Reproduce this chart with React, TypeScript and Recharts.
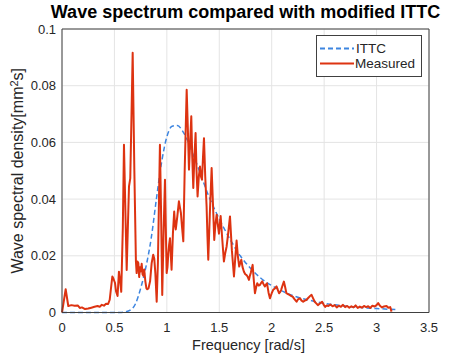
import { LineChart, Line, XAxis, YAxis, CartesianGrid, Legend } from 'recharts';

const FONT = '"Liberation Sans", Arial, Helvetica, sans-serif';
const AXIS = '#404040';

const xTicks = [0, 0.5, 1, 1.5, 2, 2.5, 3, 3.5];
const yTicks = [0, 0.02, 0.04, 0.06, 0.08, 0.1];

// modified ITTC spectrum
const ittcFreq = [0, 0.3, 0.55, 0.6, 0.65, 0.7, 0.75, 0.8, 0.85, 0.9, 0.95, 1.0, 1.05, 1.1, 1.15, 1.2, 1.25, 1.3, 1.4, 1.5, 1.6, 1.7, 1.8, 1.9, 2.0, 2.2, 2.4, 2.6, 2.8, 3.0, 3.2];
const ittcDensity = [0, 0, 0, 0.0002, 0.0008, 0.003, 0.0085, 0.016, 0.026, 0.04, 0.053, 0.062, 0.0657, 0.066, 0.064, 0.0605, 0.0557, 0.051, 0.041, 0.033, 0.026, 0.02, 0.0155, 0.012, 0.0095, 0.006, 0.004, 0.0027, 0.0019, 0.0014, 0.001];

// measured spectrum
const measuredFreq = [
  0, 0.035, 0.06, 0.09, 0.12, 0.15, 0.17, 0.19, 0.22, 0.25, 0.28, 0.31, 0.34, 0.36, 0.38, 0.4, 0.42, 0.44, 0.455, 0.47,
  0.48, 0.49, 0.505, 0.515, 0.53, 0.543, 0.555, 0.565, 0.58, 0.591, 0.605, 0.617, 0.628, 0.639, 0.651, 0.663, 0.674, 0.69, 0.705, 0.712,
  0.72, 0.728, 0.736, 0.744, 0.752, 0.76, 0.768, 0.776, 0.784, 0.795, 0.805, 0.813, 0.825, 0.84, 0.855, 0.87, 0.88, 0.89, 0.903, 0.915,
  0.925, 0.934, 0.945, 0.956, 0.97, 0.982, 0.99, 0.998, 1.006, 1.014, 1.022, 1.03, 1.038, 1.045, 1.058, 1.07, 1.078, 1.085, 1.1, 1.115,
  1.125, 1.134, 1.145, 1.157, 1.17, 1.189, 1.2, 1.211, 1.222, 1.233, 1.242, 1.252, 1.263, 1.274, 1.283, 1.293, 1.305, 1.316, 1.325, 1.335,
  1.345, 1.354, 1.366, 1.379, 1.387, 1.395, 1.41, 1.427, 1.44, 1.452, 1.463, 1.475, 1.486, 1.497, 1.505, 1.513, 1.528, 1.544, 1.557, 1.57,
  1.585, 1.602, 1.62, 1.64, 1.652, 1.665, 1.677, 1.69, 1.7, 1.71, 1.722, 1.735, 1.748, 1.76, 1.772, 1.783, 1.792, 1.8, 1.818, 1.83,
  1.84, 1.852, 1.862, 1.875, 1.887, 1.9, 1.91, 1.922, 1.935, 1.945, 1.955, 1.97, 1.983, 2.0, 2.014, 2.03, 2.046, 2.058, 2.07, 2.08,
  2.09, 2.103, 2.116, 2.128, 2.14, 2.155, 2.17, 2.185, 2.2, 2.215, 2.237, 2.25, 2.27, 2.285, 2.3, 2.315, 2.33, 2.35, 2.365, 2.38,
  2.395, 2.41, 2.425, 2.44, 2.46, 2.48, 2.495, 2.51, 2.525, 2.54, 2.56, 2.58, 2.6, 2.62, 2.64, 2.66, 2.68, 2.7, 2.72, 2.74,
  2.76, 2.78, 2.8, 2.82, 2.84, 2.86, 2.88, 2.9, 2.92, 2.94, 2.96, 2.98, 3.0, 3.015, 3.03, 3.05, 3.07, 3.095, 3.11, 3.13, 3.143,
];
const measuredDensity = [
  0, 0.0082, 0.0023, 0.0026, 0.0024, 0.0025, 0.0016, 0.0018, 0.0012, 0.0014, 0.0017, 0.002, 0.0023, 0.002, 0.0027, 0.0024, 0.0031, 0.003, 0.0045, 0.0095,
  0.0127, 0.012, 0.0105, 0.0075, 0.0058, 0.0144, 0.011, 0.0073, 0.03, 0.0592, 0.035, 0.015, 0.03, 0.0445, 0.0473, 0.07, 0.0916, 0.05, 0.018, 0.0139,
  0.018, 0.0175, 0.0125, 0.016, 0.0145, 0.0172, 0.0135, 0.013, 0.0152, 0.011, 0.0085, 0.0082, 0.0085, 0.011, 0.0174, 0.0204, 0.019, 0.014, 0.0038, 0.018,
  0.04, 0.0592, 0.035, 0.0062, 0.03, 0.0468, 0.03, 0.0139, 0.016, 0.0209, 0.024, 0.0262, 0.02, 0.0151, 0.028, 0.0356, 0.031, 0.0293, 0.034, 0.0392,
  0.037, 0.0351, 0.03, 0.0251, 0.05, 0.0786, 0.065, 0.0504, 0.06, 0.0692, 0.055, 0.0439, 0.055, 0.0633, 0.05, 0.0409, 0.048, 0.0515, 0.048, 0.0468,
  0.055, 0.0615, 0.048, 0.0374, 0.027, 0.0186, 0.035, 0.051, 0.038, 0.0256, 0.031, 0.0345, 0.031, 0.0278, 0.031, 0.034, 0.026, 0.018, 0.021, 0.0233,
  0.028, 0.0339, 0.022, 0.0127, 0.019, 0.0254, 0.02, 0.0162, 0.0175, 0.0186, 0.016, 0.0144, 0.0135, 0.0132, 0.0125, 0.0115, 0.013, 0.0139, 0.0168, 0.011,
  0.0068, 0.009, 0.0103, 0.0095, 0.0097, 0.0105, 0.011, 0.01, 0.0092, 0.0098, 0.0103, 0.007, 0.005, 0.0068, 0.008, 0.0085, 0.0092, 0.008, 0.0068, 0.0072,
  0.008, 0.0095, 0.0109, 0.009, 0.0068, 0.0065, 0.0062, 0.0058, 0.0056, 0.0048, 0.0038, 0.0046, 0.005, 0.0042, 0.0038, 0.0042, 0.0044, 0.0052, 0.0058, 0.0062,
  0.005, 0.0038, 0.0032, 0.0026, 0.0032, 0.0038, 0.0028, 0.002, 0.0025, 0.0023, 0.0028, 0.0022, 0.0026, 0.0018, 0.0024, 0.002, 0.0027, 0.0019, 0.0023, 0.0017,
  0.0022, 0.0018, 0.0025, 0.0016, 0.0021, 0.0017, 0.0023, 0.0019, 0.0022, 0.0016, 0.0024, 0.0021, 0.0026, 0.0033, 0.0025, 0.0018, 0.0021, 0.0023, 0.0017, 0.0019, 0.0003,
];

const ittcData = ittcFreq.map((f, i) => ({ f, s: ittcDensity[i] }));
const measuredData = measuredFreq.map((f, i) => ({ f, s: measuredDensity[i] }));

const series = [
  { name: 'ITTC', color: '#3d85e0', dash: '5 3' },
  { name: 'Measured', color: '#dd3311', dash: undefined },
];

const LegendBox = () => (
  <div style={{ border: `1px solid ${AXIS}`, background: '#fff', padding: '5px 6px 5px 1px', fontFamily: FONT, fontSize: 13.5, lineHeight: '15px', color: '#262626', width: 97 }}>
    {series.map(s => (
      <div key={s.name} style={{ display: 'flex', alignItems: 'center', height: 15 }}>
        <svg width={37} height={15}>
          <line x1={2} x2={36} y1={7.5} y2={7.5} stroke={s.color} strokeWidth={2} strokeDasharray={s.dash} />
        </svg>
        <span style={{ marginLeft: 1 }}>{s.name}</span>
      </div>
    ))}
  </div>
);

const YLabel = ({ viewBox }: any) => {
  const x = 23;
  const y = viewBox.y + viewBox.height / 2;
  return (
    <text x={x} y={y} transform={`rotate(-90 ${x} ${y})`} textAnchor="middle" fill="#262626" fontSize={16} fontFamily={FONT}>
      Wave spectral density[mm<tspan dy={-5} fontSize={11}>2</tspan><tspan dy={5}>s]</tspan>
    </text>
  );
};

export default function App() {
  return (
    <div style={{ position: 'absolute', left: 0, top: 0, width: 474, height: 355, background: '#fff' }}>
      <div style={{ position: 'absolute', left: 0, top: 0, width: 491, textAlign: 'center', fontFamily: FONT, fontWeight: 'bold', fontSize: 18, lineHeight: '25px', color: '#000' }}>
        Wave spectrum compared with modified ITTC
      </div>
      <LineChart width={474} height={355} margin={{ top: 29, right: 45, bottom: 0, left: 0 }}>
        <CartesianGrid xAxisId="x" yAxisId="y" stroke="#e4e4e4" strokeWidth={1} />
        <XAxis xAxisId="x" dataKey="f" type="number" domain={[0, 3.5]} ticks={xTicks} height={42.5}
          tickLine={false} tickSize={6} tickMargin={4} stroke={AXIS}
          tick={{ fill: '#262626', fontSize: 13, fontFamily: FONT }}
          label={{ value: 'Frequency [rad/s]', position: 'insideBottom', offset: 5, fill: '#262626', fontSize: 14.5, fontFamily: FONT, dx: 3 }} />
        <XAxis xAxisId="xin" type="number" domain={[0, 3.5]} ticks={xTicks} mirror tick={false} tickSize={4} axisLine={false} stroke={AXIS} />
        <XAxis xAxisId="top" orientation="top" type="number" domain={[0, 3.5]} ticks={xTicks} mirror tick={false} tickSize={4} stroke={AXIS} />
        <YAxis yAxisId="y" type="number" domain={[0, 0.1]} ticks={yTicks} width={62}
          tickLine={false} tickSize={4} tickMargin={2} stroke={AXIS}
          tick={{ fill: '#262626', fontSize: 13, fontFamily: FONT }}
          label={<YLabel />} />
        <YAxis yAxisId="yin" type="number" domain={[0, 0.1]} ticks={yTicks} mirror tick={false} tickSize={4} axisLine={false} stroke={AXIS} />
        <YAxis yAxisId="right" orientation="right" type="number" domain={[0, 0.1]} ticks={yTicks} mirror tick={false} tickSize={4} stroke={AXIS} />
        <Legend layout="vertical" align="center" verticalAlign="middle" content={<LegendBox />}
          wrapperStyle={{ left: 316, top: 35, width: 'auto', height: 'auto' }} />
        <Line xAxisId="x" yAxisId="y" name="ITTC" data={ittcData} dataKey="s" type="monotone" stroke={series[0].color}
          strokeWidth={1.5} strokeDasharray={series[0].dash} dot={false} isAnimationActive={false} />
        <Line xAxisId="x" yAxisId="y" name="Measured" data={measuredData} dataKey="s" type="linear" stroke={series[1].color}
          strokeWidth={2} strokeLinejoin="round" dot={false} isAnimationActive={false} />
      </LineChart>
    </div>
  );
}
